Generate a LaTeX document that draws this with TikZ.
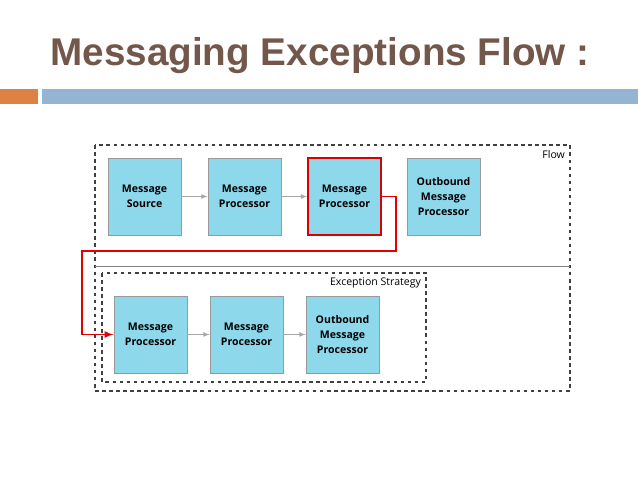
\documentclass[tikz,border=0pt]{standalone}
\usepackage{fontspec}
\setmainfont{Liberation Sans}
\newfontfamily\boxfont{Open Sans}
\usetikzlibrary{positioning}
\definecolor{titlebrown}{HTML}{72574A}
\definecolor{barorange}{HTML}{DD8243}
\definecolor{barblue}{HTML}{94B4D3}
\definecolor{procfill}{HTML}{8ED8EC}
\tikzset{
  proc/.style={draw=gray!80, thick, fill=procfill, minimum width=2.19cm, minimum height=2.31cm,
    align=center, font=\boxfont\bfseries\fontsize{9}{12.5}\selectfont, inner sep=1pt},
  flowarr/.style={draw=gray!70, thick, -latex},
  region/.style={draw=black!75, dashed, semithick, line width=1.1pt}
}
\begin{document}
\begin{tikzpicture}[x=0.03cm,y=-0.03cm]
\useasboundingbox (0,0) rectangle (638,478);
\node[font=\bfseries\fontsize{33}{36}\selectfont, text=titlebrown] (title) at (320,56) {Messaging Exceptions Flow :};
\fill[barorange] (0,89) rectangle (38,104);
\fill[barblue] (42,89) rectangle (638,104);
% flow region
\draw[region] (95,145) rectangle (570,391);
\draw[gray, thick] (95,266) -- (570,266);
\node[anchor=north east, font=\boxfont\fontsize{9}{10}\selectfont] (flowlbl) at (569,146) {Flow};
\draw[region] (102,273) rectangle (426,382);
\node[anchor=north east, font=\boxfont\fontsize{9}{10}\selectfont] (exclbl) at (425,274) {Exception Strategy};
% top row
\node[proc] (src) at (144.5,196.5) {Message\\Source};
\node[proc] (p1) at (244.5,196.5) {Message\\Processor};
\node[proc, draw=red!85!black, line width=1.6pt] (p2) at (344.5,196.5) {Message\\Processor};
\node[proc] (out) at (443.5,196.5) {Outbound\\Message\\Processor};
\draw[flowarr] (src) -- (p1);
\draw[flowarr] (p1) -- (p2);
% exception row
\node[proc] (e1) at (150.5,334.5) {Message\\Processor};
\node[proc] (e2) at (246.5,334.5) {Message\\Processor};
\node[proc] (eout) at (342.5,334.5) {Outbound\\Message\\Processor};
\draw[flowarr] (e1) -- (e2);
\draw[flowarr] (e2) -- (eout);
% error path
\coordinate (c1) at (396,251);
\coordinate (c2) at (82,251);
\draw[red!90!black, line width=1.6pt, -latex] (p2.east) -| (c1) -- (c2) |- (e1.west);
\end{tikzpicture}
\end{document}
